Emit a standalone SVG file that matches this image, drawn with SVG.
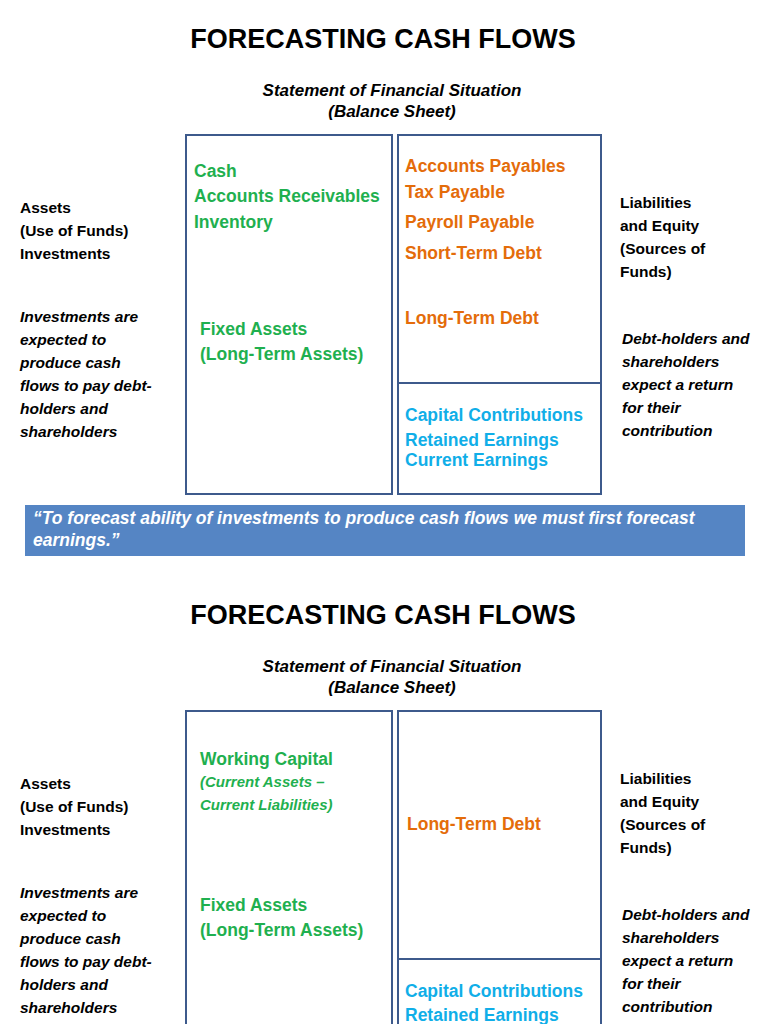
<svg xmlns="http://www.w3.org/2000/svg" width="768" height="1024" viewBox="0 0 768 1024">
<style>
text{font-family:"Liberation Sans",Arial,sans-serif;font-weight:bold}
.t{font-size:27px;fill:#000;text-anchor:middle}
.s{font-size:17px;font-style:italic;fill:#000;text-anchor:middle}
.k{font-size:15.5px;fill:#000}
.ki{font-size:15.5px;fill:#000;font-style:italic}
.g{font-size:17.5px;fill:#1fb04f}
.gi{font-size:15px;fill:#1fb04f;font-style:italic}
.o{font-size:17.5px;fill:#e46c0a}
.b{font-size:17.5px;fill:#10aee8}
.box{fill:none;stroke:#3d5a8c;stroke-width:2}
</style>
<rect width="768" height="1024" fill="#fff"/>
<g id="top">
<text class="t" x="383" y="48">FORECASTING CASH FLOWS</text>
<text class="s" x="392" y="96">Statement of Financial Situation</text>
<text class="s" x="392" y="117">(Balance Sheet)</text>
<g id="assets1"><rect class="box" x="186" y="135" width="206" height="359"/>
<text class="g" x="194" y="177">Cash</text>
<text class="g" x="194" y="202">Accounts Receivables</text>
<text class="g" x="194" y="228">Inventory</text>
<text class="g" x="200" y="335">Fixed Assets</text>
<text class="g" x="200" y="360">(Long-Term Assets)</text></g>
<g id="liab1"><rect class="box" x="398" y="135" width="203" height="248"/>
<text class="o" x="405" y="172">Accounts Payables</text>
<text class="o" x="405" y="198">Tax Payable</text>
<text class="o" x="405" y="228">Payroll Payable</text>
<text class="o" x="405" y="259">Short-Term Debt</text>
<text class="o" x="405" y="324">Long-Term Debt</text></g>
<g id="eq1"><rect class="box" x="398" y="383" width="203" height="111"/>
<text class="b" x="405" y="421">Capital Contributions</text>
<text class="b" x="405" y="446">Retained Earnings</text>
<text class="b" x="405" y="466">Current Earnings</text></g>
<g id="left1"><text class="k" x="20" y="213">Assets</text><text class="k" x="20" y="236">(Use of Funds)</text><text class="k" x="20" y="259">Investments</text>
<text class="ki" x="20" y="322">Investments are</text><text class="ki" x="20" y="345">expected to</text><text class="ki" x="20" y="368">produce cash</text><text class="ki" x="20" y="391">flows to pay debt-</text><text class="ki" x="20" y="414">holders and</text><text class="ki" x="20" y="437">shareholders</text></g>
<g id="right1"><text class="k" x="620" y="208">Liabilities</text><text class="k" x="620" y="231">and Equity</text><text class="k" x="620" y="254">(Sources of</text><text class="k" x="620" y="277">Funds)</text>
<text class="ki" x="622" y="344">Debt-holders and</text><text class="ki" x="622" y="367">shareholders</text><text class="ki" x="622" y="390">expect a return</text><text class="ki" x="622" y="413">for their</text><text class="ki" x="622" y="436">contribution</text></g>
<g id="quote"><rect x="25" y="505" width="720" height="51" fill="#5585c4"/>
<text x="33" y="524" style="font-size:17.5px;font-style:italic;fill:#fff">“To forecast ability of investments to produce cash flows we must first forecast</text>
<text x="33" y="546" style="font-size:17.5px;font-style:italic;fill:#fff">earnings.”</text></g>
</g>
<g id="bottom">
<text class="t" x="383" y="624">FORECASTING CASH FLOWS</text>
<text class="s" x="392" y="672">Statement of Financial Situation</text>
<text class="s" x="392" y="693">(Balance Sheet)</text>
<g id="assets2"><rect class="box" x="186" y="711" width="206" height="330"/>
<text class="g" x="200" y="765">Working Capital</text>
<text class="gi" x="200" y="787">(Current Assets –</text>
<text class="gi" x="200" y="810">Current Liabilities)</text>
<text class="g" x="200" y="911">Fixed Assets</text>
<text class="g" x="200" y="936">(Long-Term Assets)</text></g>
<g id="liab2"><rect class="box" x="398" y="711" width="203" height="248"/>
<text class="o" x="407" y="830">Long-Term Debt</text></g>
<g id="eq2"><rect class="box" x="398" y="959" width="203" height="80"/>
<text class="b" x="405" y="997">Capital Contributions</text>
<text class="b" x="405" y="1021">Retained Earnings</text></g>
<g id="left2"><text class="k" x="20" y="789">Assets</text><text class="k" x="20" y="812">(Use of Funds)</text><text class="k" x="20" y="835">Investments</text>
<text class="ki" x="20" y="898">Investments are</text><text class="ki" x="20" y="921">expected to</text><text class="ki" x="20" y="944">produce cash</text><text class="ki" x="20" y="967">flows to pay debt-</text><text class="ki" x="20" y="990">holders and</text><text class="ki" x="20" y="1013">shareholders</text></g>
<g id="right2"><text class="k" x="620" y="784">Liabilities</text><text class="k" x="620" y="807">and Equity</text><text class="k" x="620" y="830">(Sources of</text><text class="k" x="620" y="853">Funds)</text>
<text class="ki" x="622" y="920">Debt-holders and</text><text class="ki" x="622" y="943">shareholders</text><text class="ki" x="622" y="966">expect a return</text><text class="ki" x="622" y="989">for their</text><text class="ki" x="622" y="1012">contribution</text></g>
</g>
<g id="connectors"/>
</svg>
